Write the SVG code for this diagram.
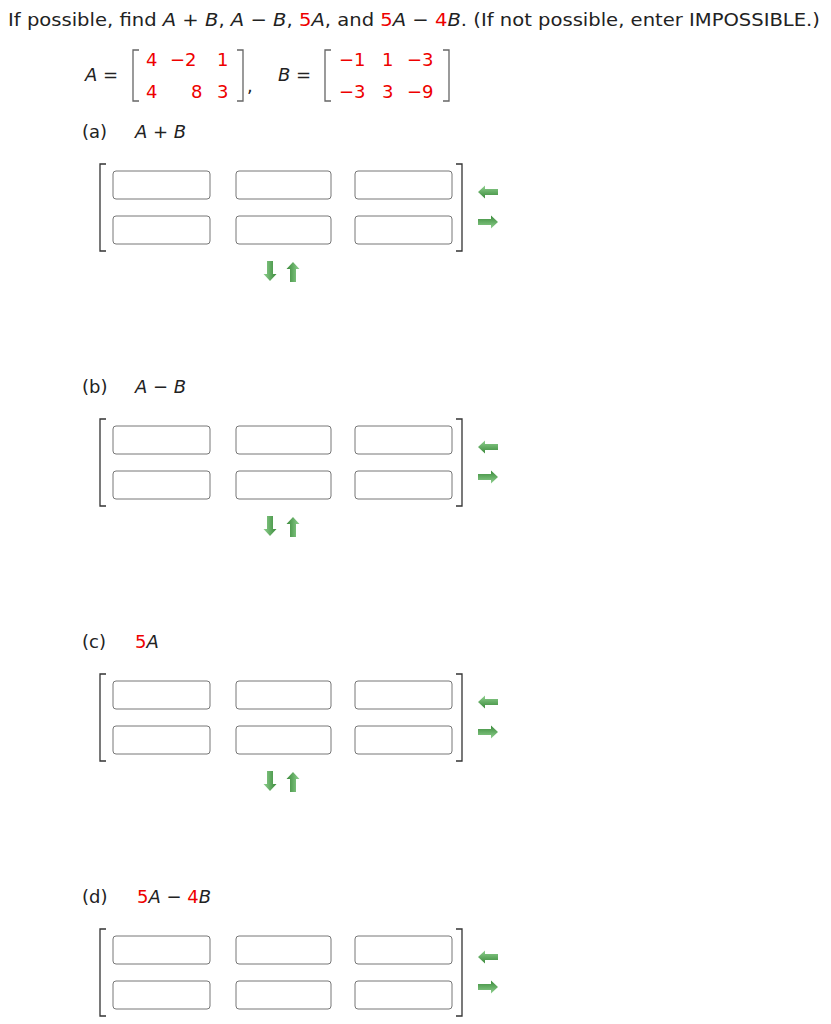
<svg xmlns="http://www.w3.org/2000/svg" width="831" height="1024" viewBox="0 0 831 1024">
<style>
text{font-family:"DejaVu Sans",Verdana,sans-serif;font-size:18px;fill:#222}
.r{fill:#e00}
.i{font-style:italic}
.box{fill:#fff;stroke:#777;stroke-width:1;rx:3}
.br{fill:none;stroke:#333;stroke-width:1.3}
.mb{fill:none;stroke:#666;stroke-width:1.3}
</style>
<defs>
<linearGradient id="g" x1="0" y1="0" x2="0" y2="1"><stop offset="0" stop-color="#8fd08f"/><stop offset="1" stop-color="#3a8a3a"/></linearGradient>
<path id="arL" d="M0,0 L7,-6.5 L7,-3 L20,-3 L20,3 L7,3 L7,6.5 Z" fill="url(#g)"/>
<g id="mat">
<path class="br" d="M106,164 H100 V251 H106 M456,164 H462 V251 H456"/>
<rect class="box" x="113" y="171" width="97" height="28"/>
<rect class="box" x="236" y="171" width="95" height="28"/>
<rect class="box" x="355" y="171" width="97" height="28"/>
<rect class="box" x="113" y="216" width="97" height="28"/>
<rect class="box" x="236" y="216" width="95" height="28"/>
<rect class="box" x="355" y="216" width="97" height="28"/>
<use href="#arL" transform="translate(478,192)"/>
<use href="#arL" transform="translate(498,222) rotate(180)"/>
<use href="#arL" transform="translate(270,281) rotate(-90)"/>
<use href="#arL" transform="translate(293,262) rotate(90)"/>
</g>
</defs>
<text x="8" y="26" textLength="812" lengthAdjust="spacingAndGlyphs">If possible, find  <tspan class="i">A</tspan> + <tspan class="i">B</tspan>, <tspan class="i">A</tspan> − <tspan class="i">B</tspan>, <tspan class="r">5</tspan><tspan class="i">A</tspan>, and <tspan class="r">5</tspan><tspan class="i">A</tspan> − <tspan class="r">4</tspan><tspan class="i">B</tspan>.  (If not possible, enter IMPOSSIBLE.)</text>
<g id="matA">
<text x="85" y="81"><tspan class="i">A</tspan> =</text>
<path class="mb" d="M139,50 H133 V101 H139 M237,50 H243 V101 H237"/>
<text class="r" x="146" y="66">4</text><text class="r" x="170" y="66">−2</text><text class="r" x="217" y="66">1</text>
<text class="r" x="146" y="98">4</text><text class="r" x="191" y="98">8</text><text class="r" x="217" y="98">3</text>
<text x="247" y="92">,</text>
</g>
<g id="matB">
<text x="278" y="81"><tspan class="i">B</tspan> =</text>
<path class="mb" d="M331,50 H325 V101 H331 M443,50 H449 V101 H443"/>
<text class="r" x="339" y="66">−1</text><text class="r" x="382" y="66">1</text><text class="r" x="407" y="66">−3</text>
<text class="r" x="339" y="98">−3</text><text class="r" x="382" y="98">3</text><text class="r" x="407" y="98">−9</text>
</g>
<g id="a"><text x="82" y="138">(a)</text><text x="135" y="138"><tspan class="i">A</tspan> + <tspan class="i">B</tspan></text><use href="#mat"/></g>
<g id="b"><text x="82" y="393">(b)</text><text x="135" y="393"><tspan class="i">A</tspan> − <tspan class="i">B</tspan></text><use href="#mat" y="255"/></g>
<g id="c"><text x="82" y="648">(c)</text><text x="135" y="648"><tspan class="r">5</tspan><tspan class="i">A</tspan></text><use href="#mat" y="510"/></g>
<g id="d"><text x="82" y="903">(d)</text><text x="137" y="903"><tspan class="r">5</tspan><tspan class="i">A</tspan> − <tspan class="r">4</tspan><tspan class="i">B</tspan></text><use href="#mat" y="765"/></g>
</svg>
